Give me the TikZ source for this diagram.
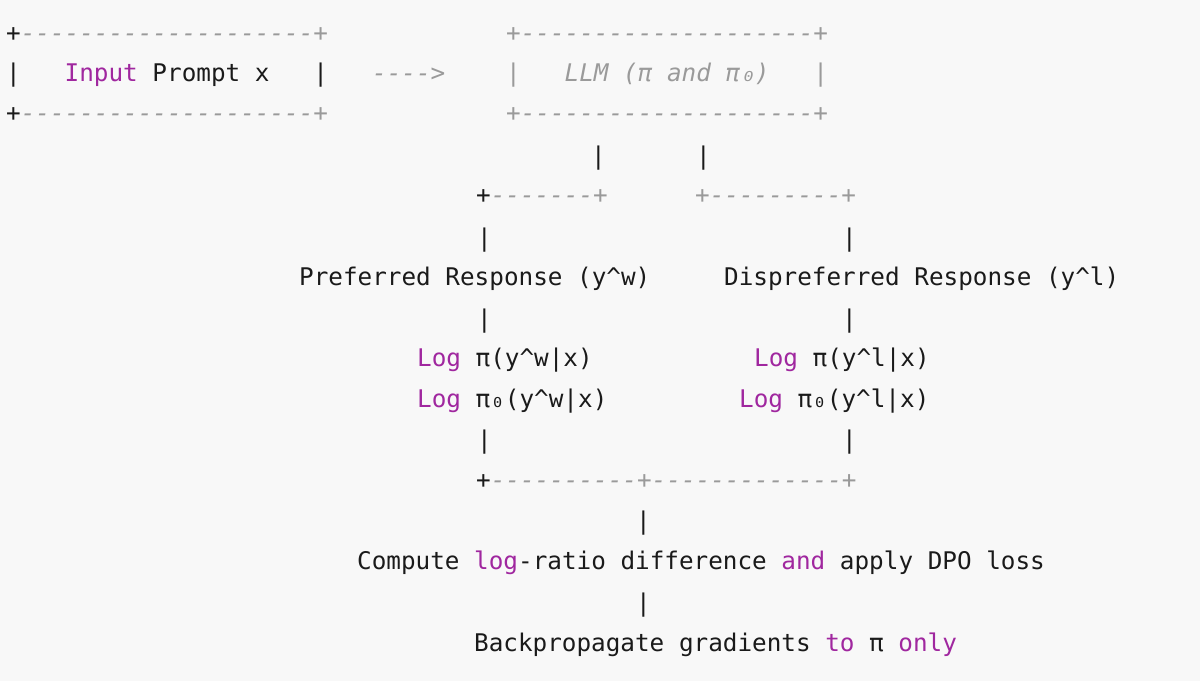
\documentclass[tikz,border=0pt]{standalone}
\usepackage{fontspec}
\setmonofont{DejaVu Sans Mono}
\definecolor{bg}{HTML}{F8F8F8}
\definecolor{tx}{HTML}{1A1A1A}
\definecolor{kw}{HTML}{A0279F}
\definecolor{cm}{HTML}{9A9A9A}
\newcommand{\K}[1]{\textcolor{kw}{#1}}
\newcommand{\C}[1]{\textcolor{cm}{\itshape #1}}
\begin{document}
\begin{tikzpicture}[x=1pt,y=1pt,
  t/.style={anchor=mid west,inner sep=0pt,text=tx,font=\ttfamily\fontsize{24.3}{24.3}\selectfont}]
\fill[bg] (0,0) rectangle (1200,-681);
\useasboundingbox (0,0) rectangle (1200,-681);
\begin{scope}[yshift=-6pt]
\node[t] (a1) at (6,-33) {+\C{--------------------+}};
\node[t] (b1) at (506,-33) {\C{+--------------------+}};
\node[t] (a2) at (6,-73) {|\ \ \ \K{Input} Prompt x\ \ \ |};
\node[t] (ar) at (372,-73) {\C{---->}};
\node[t] (b2) at (506,-73) {\C{|\ \ \ LLM (π and π₀)\ \ \ |}};
\node[t] (a3) at (6,-113) {+\C{--------------------+}};
\node[t] (b3) at (506,-113) {\C{+--------------------+}};
\node[t] (v1) at (591,-156) {|};
\node[t] (v2) at (696,-156) {|};
\node[t] (s1) at (476,-195) {+\C{-------+}};
\node[t] (s2) at (695,-195) {\C{+---------+}};
\node[t] (v3) at (477,-238) {|};
\node[t] (v4) at (842,-238) {|};
\node[t] (pw) at (299,-277) {Preferred Response (y\textasciicircum w)};
\node[t] (pl) at (724,-277) {Dispreferred Response (y\textasciicircum l)};
\node[t] (v5) at (477,-319) {|};
\node[t] (v6) at (842,-319) {|};
\node[t] (l1) at (417,-358) {\K{Log} π(y\textasciicircum w|x)};
\node[t] (l2) at (754,-358) {\K{Log} π(y\textasciicircum l|x)};
\node[t] (l3) at (417,-399) {\K{Log} π₀(y\textasciicircum w|x)};
\node[t] (l4) at (739,-399) {\K{Log} π₀(y\textasciicircum l|x)};
\node[t] (v7) at (477,-440) {|};
\node[t] (v8) at (842,-440) {|};
\node[t] (m) at (476,-480) {+\C{----------+-------------+}};
\node[t] (v9) at (636,-521) {|};
\node[t] (c) at (357,-561) {Compute \K{log}-ratio difference \K{and} apply DPO loss};
\node[t] (v10) at (636,-603) {|};
\node[t] (bp) at (474,-643) {Backpropagate gradients \K{to} π \K{only}};
\end{scope}
\end{tikzpicture}
\end{document}
